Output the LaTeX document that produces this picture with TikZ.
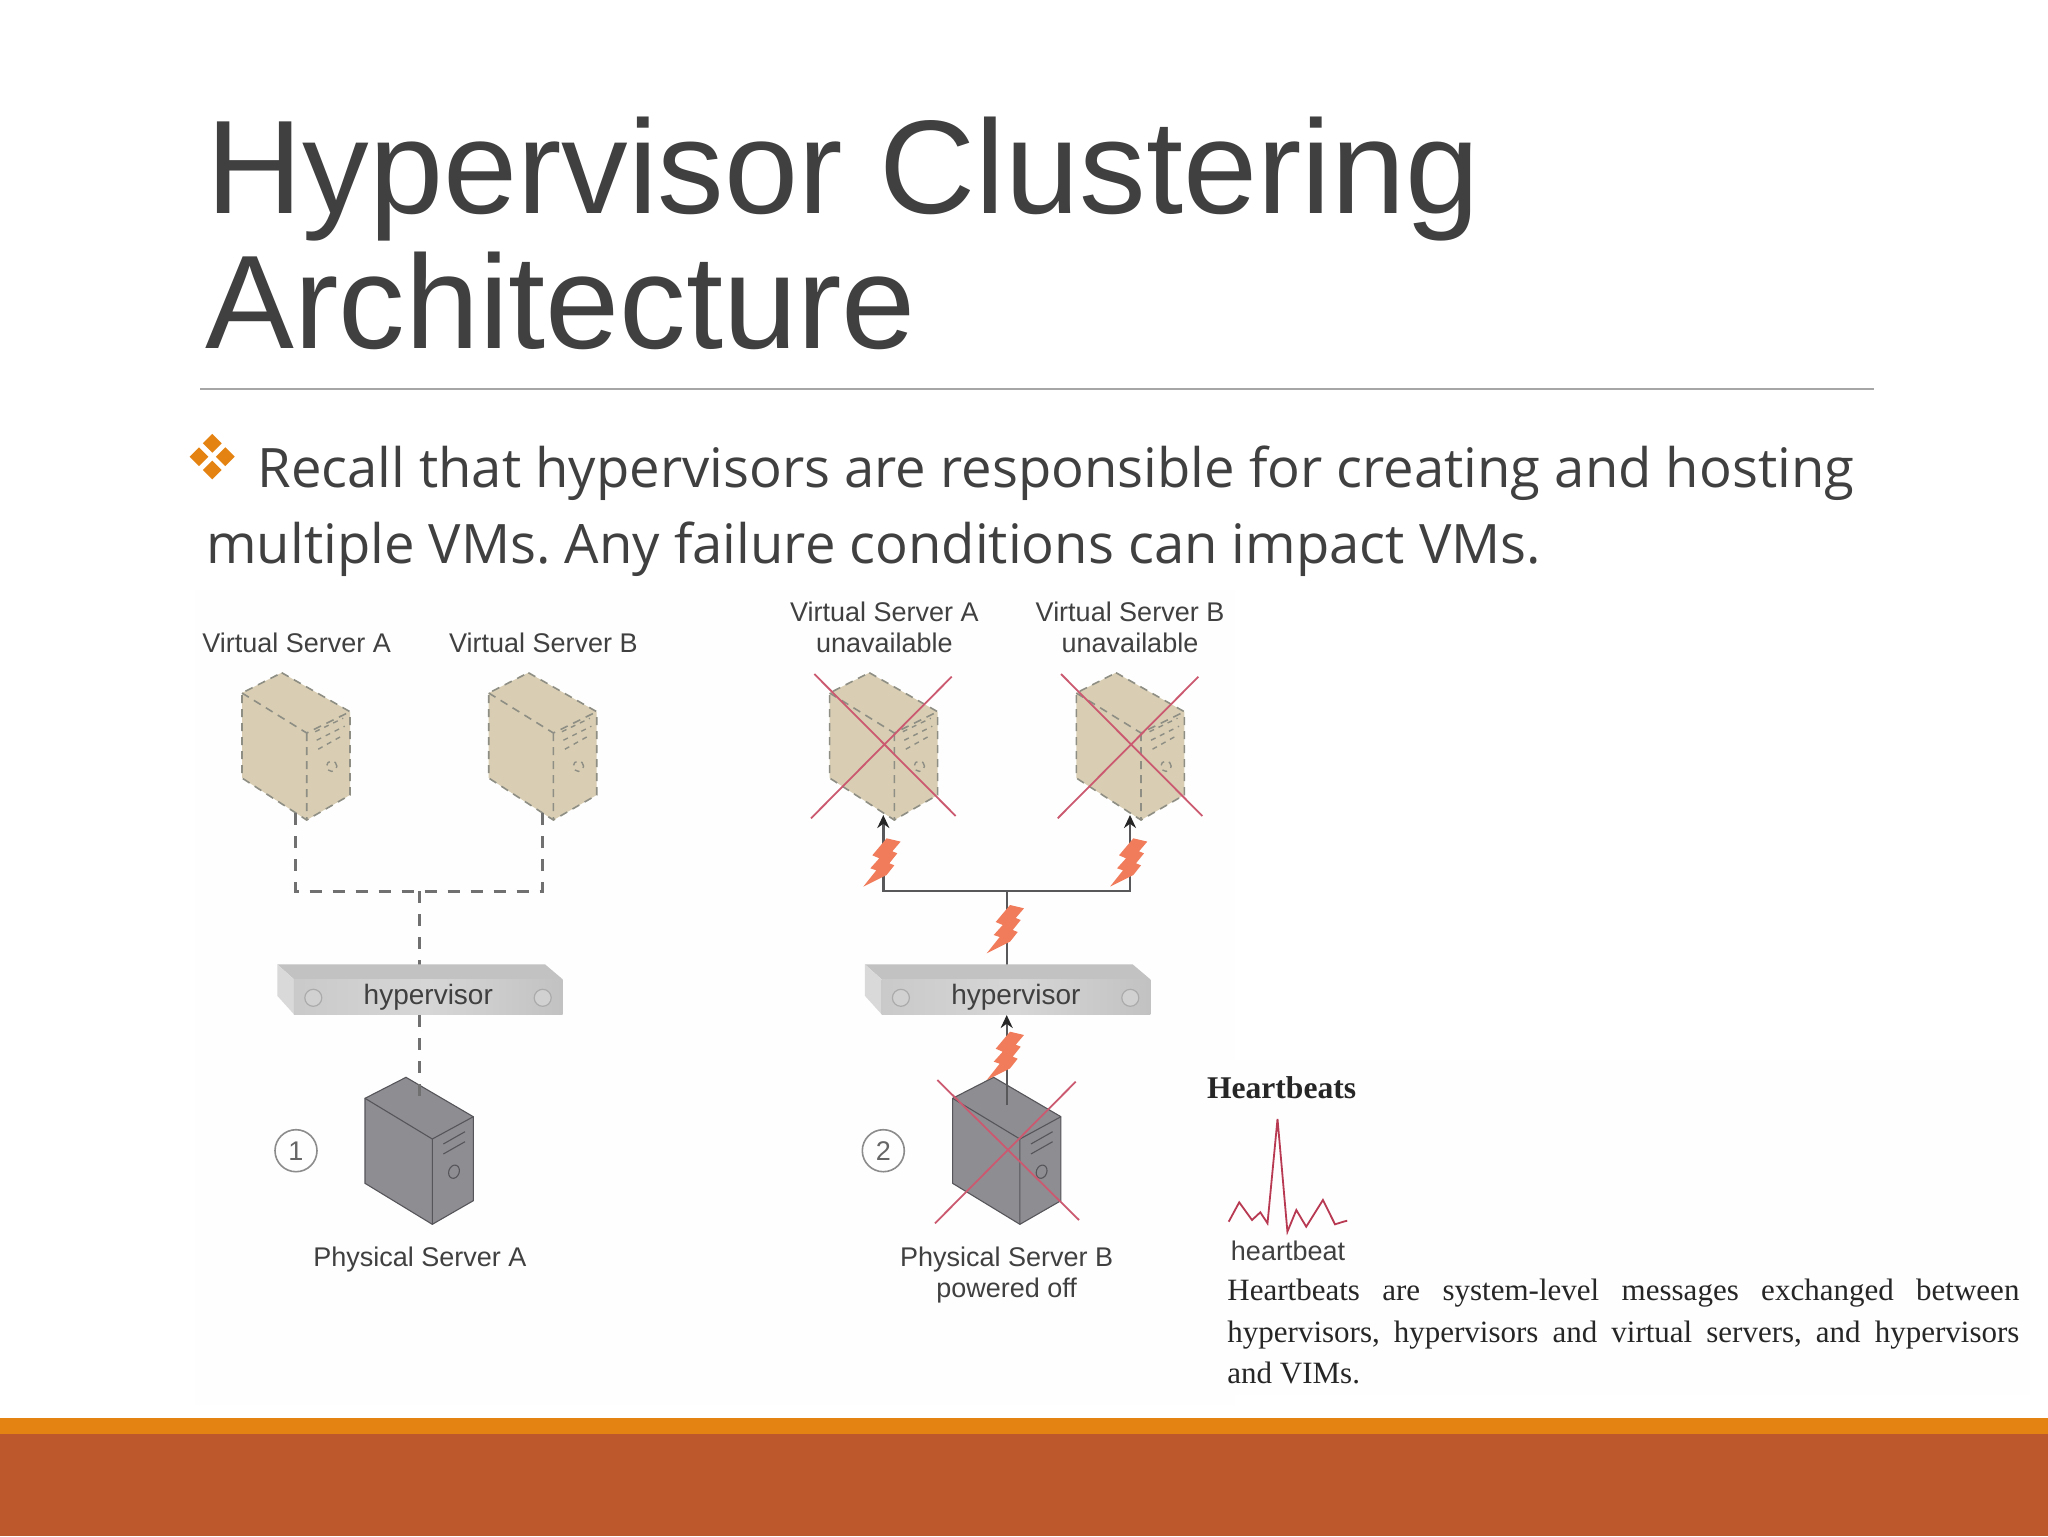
\documentclass[tikz,border=0pt]{standalone}
\usepackage{fontspec}
\setmainfont{Liberation Sans}
\newfontfamily\bodyfont{Open Sans}
\newfontfamily\bookfont{Liberation Serif}
\usetikzlibrary{arrows.meta,shapes.geometric}
\definecolor{inkgray}{HTML}{404040}
\definecolor{bandorange}{HTML}{E48312}
\definecolor{bandrust}{HTML}{BD582C}
\definecolor{vmfill}{HTML}{D9CEB4}
\definecolor{vmline}{HTML}{8E8E84}
\definecolor{physfill}{HTML}{8E8E92}
\definecolor{physline}{HTML}{55555A}
\definecolor{crossred}{HTML}{CB5A70}
\definecolor{pulsered}{HTML}{B83A52}
\definecolor{boltred}{HTML}{F07C5C}
\definecolor{wiregray}{HTML}{58585A}
\definecolor{dashgray}{HTML}{707070}
\tikzset{
  vmbox/.pic={
    \draw[vmedge, fill=vmfill] (0,0) -- (68.3,39) -- (68.3,122.3) -- (25,147.3) -- (-39.7,105.3) -- (-39.7,20.3) -- cycle;
    \draw[vmedge] (-39.7,20.3) -- (25,60.3) -- (68.3,39) (25,60.3) -- (25,147.3);
    \draw[vmvent] (33.5,59) -- (61.5,45.5) (35,67.5) -- (63,53.5) (36.5,76.5) -- (61.5,62.5);
    \draw[vmvent] (50,93.5) circle[radius=2.6pt];
  },
  physbox/.pic={
    \draw[physedge, fill=physfill] (0,0) -- (67.3,39.4) -- (67.3,123.4) -- (26.3,147) -- (-41,106) -- (-41,21) -- cycle;
    \draw[physedge] (-41,21) -- (26.3,61.7) -- (67.3,39.4) (26.3,61.7) -- (26.3,147);
    \draw[physedge] (37.3,66.7) -- (59,54.4) (37.3,76.7) -- (59,64.4);
    \draw[physedge] (48,94.4) circle[x radius=2.6pt, y radius=3.4pt, rotate=-20];
  },
  hypbox/.pic={
    \fill[hyptop] (-151,-32.5) -- (116.7,-32.5) -- (134.4,-17.5) -- (-134.3,-17.5) -- cycle;
    \fill[hypside] (-151,-32.5) -- (-134.3,-17.5) -- (-134.3,17.5) -- (-151,-1) -- cycle;
    \node[hypface] (-face) at (0,0) {hypervisor};
    \node[hyphole] (-left) at (-115,1) {};
    \node[hyphole] (-right) at (114.4,1) {};
  },
  boltmark/.pic={
    \fill[boltred] (3.3,-25) -- (17.3,-21.7) -- (9,-12) -- (14,-10) -- (6,0) -- (11,2) -- (3.3,11.7) -- (-20,23.3) -- (-7,7) -- (-13,5) -- (-4,-5) -- (-11,-8) -- cycle;
  }
}
\begin{document}
\frenchspacing
\begin{tikzpicture}[x=0.5pt, y=-0.5pt, >={Stealth[length=6.5pt, width=6pt, black!85]},
  vmedge/.style={draw=vmline, line width=0.8pt, dash pattern=on 4pt off 3pt},
  vmvent/.style={draw=vmline, line width=0.7pt, dash pattern=on 2.5pt off 2.5pt},
  physedge/.style={draw=physline, line width=0.55pt},
  hyptop/.style={fill=black!24},
  hypside/.style={fill=black!15},
  hypface/.style={rectangle, left color=black!21, right color=black!24, middle color=black!16, minimum width=134.4pt, minimum height=17.5pt, inner sep=0pt, text=inkgray, font=\fontsize{14}{16}\selectfont},
  hyphole/.style={circle, draw=black!33, fill=black!18, line width=0.6pt, minimum size=8.5pt, inner sep=0pt},
  lbl/.style={text=inkgray, align=center, inner sep=0pt, font=\fontsize{13.5}{15.5}\selectfont},
  numring/.style={circle, draw=black!45, line width=0.8pt, minimum size=21pt, inner sep=0pt, text=black!60, font=\fontsize{13.5}{15}\selectfont},
  dashwire/.style={draw=dashgray, line width=1.5pt, dash pattern=on 6pt off 5.5pt},
  solidwire/.style={draw=wiregray, line width=1.2pt},
  redcross/.style={draw=crossred, line width=0.9pt},
  bulletdia/.style={diamond, fill=bandorange, inner sep=0pt, minimum size=9.6pt},
]
\useasboundingbox (0,0) rectangle (2048,1536);
\fill[white] (0,0) rectangle (2048,1536);
\fill[black!0.5] (195,590) rectangle (1235,1405);
\fill[black!0.5] (1190,1060) rectangle (2030,1395);
\fill[bandorange] (0,1418) rectangle (2048,1434);
\fill[bandrust] (0,1434) rectangle (2048,1536);

\draw (206,179) node[anchor=west, inner sep=0pt, text=inkgray, font=\fontsize{66.6}{69}\selectfont] (titleA) {Hypervisor Clustering};
\draw (205,301) node[anchor=west, inner sep=0pt, text=inkgray, font=\fontsize{66.6}{69}\selectfont] (titleB) {Architecture};
\draw[black!35, line width=0.7pt] (200,389) -- (1874,389);

\draw (212.3,443.3) node[bulletdia] (diaT) {}
      (199,456.7) node[bulletdia] (diaL) {}
      (225.3,456.7) node[bulletdia] (diaR) {}
      (212.3,470) node[bulletdia] (diaB) {};
\draw (257,487) node[anchor=base west, inner sep=0pt, text=inkgray, font=\bodyfont\fontsize{27.2}{30}\selectfont] (bodyA) {Recall that hypervisors are responsible for creating and hosting};
\draw (206,563) node[anchor=base west, inner sep=0pt, text=inkgray, font=\bodyfont\fontsize{27.2}{30}\selectfont] (bodyB) {multiple VMs. Any failure conditions can impact VMs.};

\draw (296.7,642.7) node[lbl] (vsA) {Virtual Server A};
\draw (543.3,642.7) node[lbl] (vsB) {Virtual Server B};
\pic at (281.7,672.7) {vmbox};
\pic at (528.4,672.7) {vmbox};

\coordinate (vmA) at (295.7,813);
\coordinate (vmB) at (542.7,813);
\coordinate (junA) at (419,891);
\coordinate (hypinA) at (419,970);
\coordinate (hypoutA) at (419,1015);
\coordinate (physA) at (419,1105);

\draw[dashwire] (vmA) |- (junA) -| (vmB);
\draw[dashwire] (junA) -- (hypinA);
\pic (hypA) at (428.3,996.8) {hypbox};
\pic at (406,1077.3) {physbox};
\draw[dashwire] (hypoutA) -- (physA);
\draw (296,1150.7) node[numring] (numA) {1};
\draw (420,1259.5) node[lbl] (psA) {Physical Server A};

\draw (884.3,627.8) node[lbl] (vuA) {Virtual Server A\\unavailable};
\draw (1130,627.8) node[lbl] (vuB) {Virtual Server B\\unavailable};
\pic at (869.3,672.7) {vmbox};
\pic at (1116,672.7) {vmbox};
\draw[redcross] (814.3,674) -- (955.7,816) (951.7,676.7) -- (811,818.3);
\draw[redcross] (1061,674) -- (1202.4,816) (1198.4,676.7) -- (1057.7,818.3);

\coordinate (vuinA) at (883.3,815);
\coordinate (vuinB) at (1130,815);
\coordinate (junB) at (1006.7,891);
\coordinate (hypinB) at (1006.7,970);
\coordinate (hypoutB) at (1006.7,1015);
\coordinate (physB) at (1006.7,1105);

\pic at (993.6,1077.3) {physbox};
\draw[solidwire, ->] (junB) -| (vuinA);
\draw[solidwire, ->] (junB) -| (vuinB);
\draw[solidwire] (junB) -- (hypinB);
\pic (hypB) at (1015.9,996.8) {hypbox};
\draw[solidwire, ->] (physB) -- (hypoutB);
\pic at (883.3,863.3) {boltmark};
\pic at (1130,863.3) {boltmark};
\pic at (1006.7,930) {boltmark};
\pic at (1006.7,1056.7) {boltmark};
\draw[redcross] (937.3,1080) -- (1079,1220) (1075.7,1081.7) -- (935,1223.3);
\draw (883.3,1150.7) node[numring] (numB) {2};
\draw (1006.7,1275) node[lbl] (psB) {Physical Server B\\powered off};

\draw (1206.6,1098) node[anchor=base west, inner sep=0pt, text=black!85, font=\bookfont\bfseries\fontsize{15.8}{18}\selectfont] (hbhead) {Heartbeats};
\draw[draw=pulsered, line width=0.9pt] (1228.7,1221.7) -- (1239.2,1202.3) -- (1252,1220) -- (1260.3,1212.3) -- (1267.5,1223.3) -- (1277.5,1119) -- (1287.4,1231.7) -- (1296.3,1210) -- (1306.2,1226.7) -- (1322.9,1200) -- (1335,1224.3) -- (1343.3,1221.7) -- (1347.2,1220.7);
\draw (1288,1251) node[lbl] (hblabel) {heartbeat};
\draw (1227,1331.5) node[anchor=west, inner sep=0pt, text width=396pt, align=justify, text=black!85, font=\bookfont\fontsize{15.5}{20.75}\selectfont] (hbtext) {Heartbeats are system-level messages exchanged between\linebreak hypervisors, hypervisors and virtual servers, and hypervisors\linebreak and VIMs.};
\end{tikzpicture}
\end{document}
